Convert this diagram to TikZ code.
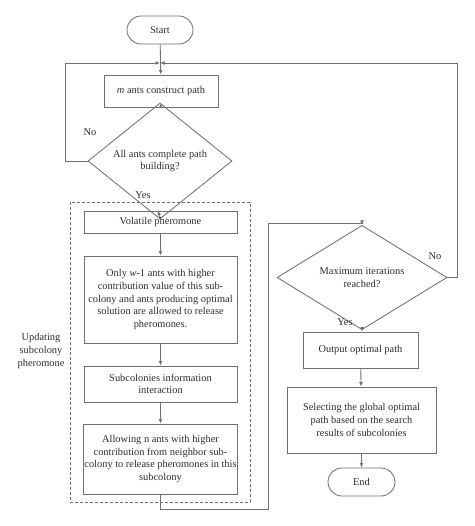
\documentclass[tikz,border=0pt]{standalone}
\usepackage{fontspec}
\setmainfont{Liberation Serif}
\usetikzlibrary{shapes.geometric,shapes.misc,arrows.meta}
\definecolor{lc}{HTML}{707070}
\definecolor{tc}{HTML}{2e2e2e}
\tikzset{
  every node/.style={text=tc, font=\fontsize{10.4}{12.6}\selectfont},
  conn/.style={draw=lc, line width=0.85pt},
  arr/.style={conn, -{Latex[length=4.5pt,width=3.8pt]}, shorten >=0pt},
  proc/.style={draw=lc, line width=0.85pt, rectangle, align=center, inner sep=0.5pt},
  term/.style={draw=lc, line width=0.85pt, rounded rectangle, inner sep=1pt},
  dec/.style={draw=lc, line width=0.85pt, diamond, align=center, inner sep=0pt},
  grpbox/.style={draw=lc, line width=0.7pt, dash pattern=on 3pt off 2pt, rectangle},
  lbl/.style={inner sep=0pt}
}
\begin{document}
\begin{tikzpicture}[x=1pt,y=-1pt]
\useasboundingbox (0,0) rectangle (474,526);
\node[term, minimum width=68pt, minimum height=28pt] (start) at (160,30) {Start};
\coordinate (join) at (160,63);
\node[proc, minimum width=114pt, minimum height=32pt] (m) at (161,91) {\textit{m} ants construct path};
\node[dec, minimum width=144pt, minimum height=78pt] (d1) at (160,161) {All ants complete path\\building?};
\node[grpbox, minimum width=180pt, minimum height=300pt] (grp) at (160,352) {};
\node[proc, minimum width=153pt, minimum height=22pt] (v) at (160.5,222) {Volatile pheromone};
\node[proc, minimum width=153pt, minimum height=87pt] (b2) at (160.5,299.5) {Only \textit{w}-1 ants with higher\\contribution value of this sub-\\colony and ants producing optimal\\solution are allowed to release\\pheromones.};
\node[proc, minimum width=153pt, minimum height=36pt] (b3) at (160.5,384) {Subcolonies information\\interaction};
\node[proc, minimum width=153pt, minimum height=70pt] (b4) at (160.5,459) {Allowing n ants with higher\\contribution from neighbor sub-\\colony to release pheromones in this\\subcolony};
\node[lbl, align=center] (upd) at (41,351) {Updating\\subcolony\\pheromone};
\node[dec, minimum width=170pt, minimum height=65pt] (d2) at (362,277.5) {Maximum iterations\\reached?};
\node[proc, minimum width=115pt, minimum height=36pt] (out) at (360.5,350) {Output optimal path};
\node[proc, minimum width=149pt, minimum height=66pt] (sel) at (361.5,420) {Selecting the global optimal\\path based on the search\\results of subcolonies};
\node[term, minimum width=69pt, minimum height=28pt] (end) at (361.5,482) {End};
\node[lbl] (no1) at (90,132) {No};
\node[lbl] (yes1) at (143,195) {Yes};
\node[lbl] (no2) at (435,256) {No};
\node[lbl] (yes2) at (345,322) {Yes};
\coordinate (l1) at (65,161);
\coordinate (l2) at (65,63);
\coordinate (r1) at (457,277.5);
\coordinate (r2) at (457,63);
\coordinate (bb1) at (160,509);
\coordinate (bb2) at (268,509);
\coordinate (bb3) at (268,223);
\coordinate (bb4) at (362,223);
\draw[arr] (start) -- (m);
\draw[arr] (d1.west) -- (l1) -- (l2) -- (join);
\draw[arr] (d2.east) -- (r1) -- (r2) -- (join);
\draw[arr] (m) -- (d1);
\draw[arr] (d1.south) -- (v);
\draw[arr] (v) -- (b2);
\draw[arr] (b2) -- (b3);
\draw[arr] (b3) -- (b4);
\draw[arr] (b4.south -| bb1) -- (bb1) -- (bb2) -- (bb3) -- (bb4) -- (d2.north);
\draw[arr] (d2.south) -- (out);
\draw[arr] (out) -- (sel);
\draw[arr] (sel) -- (end);
\end{tikzpicture}
\end{document}
